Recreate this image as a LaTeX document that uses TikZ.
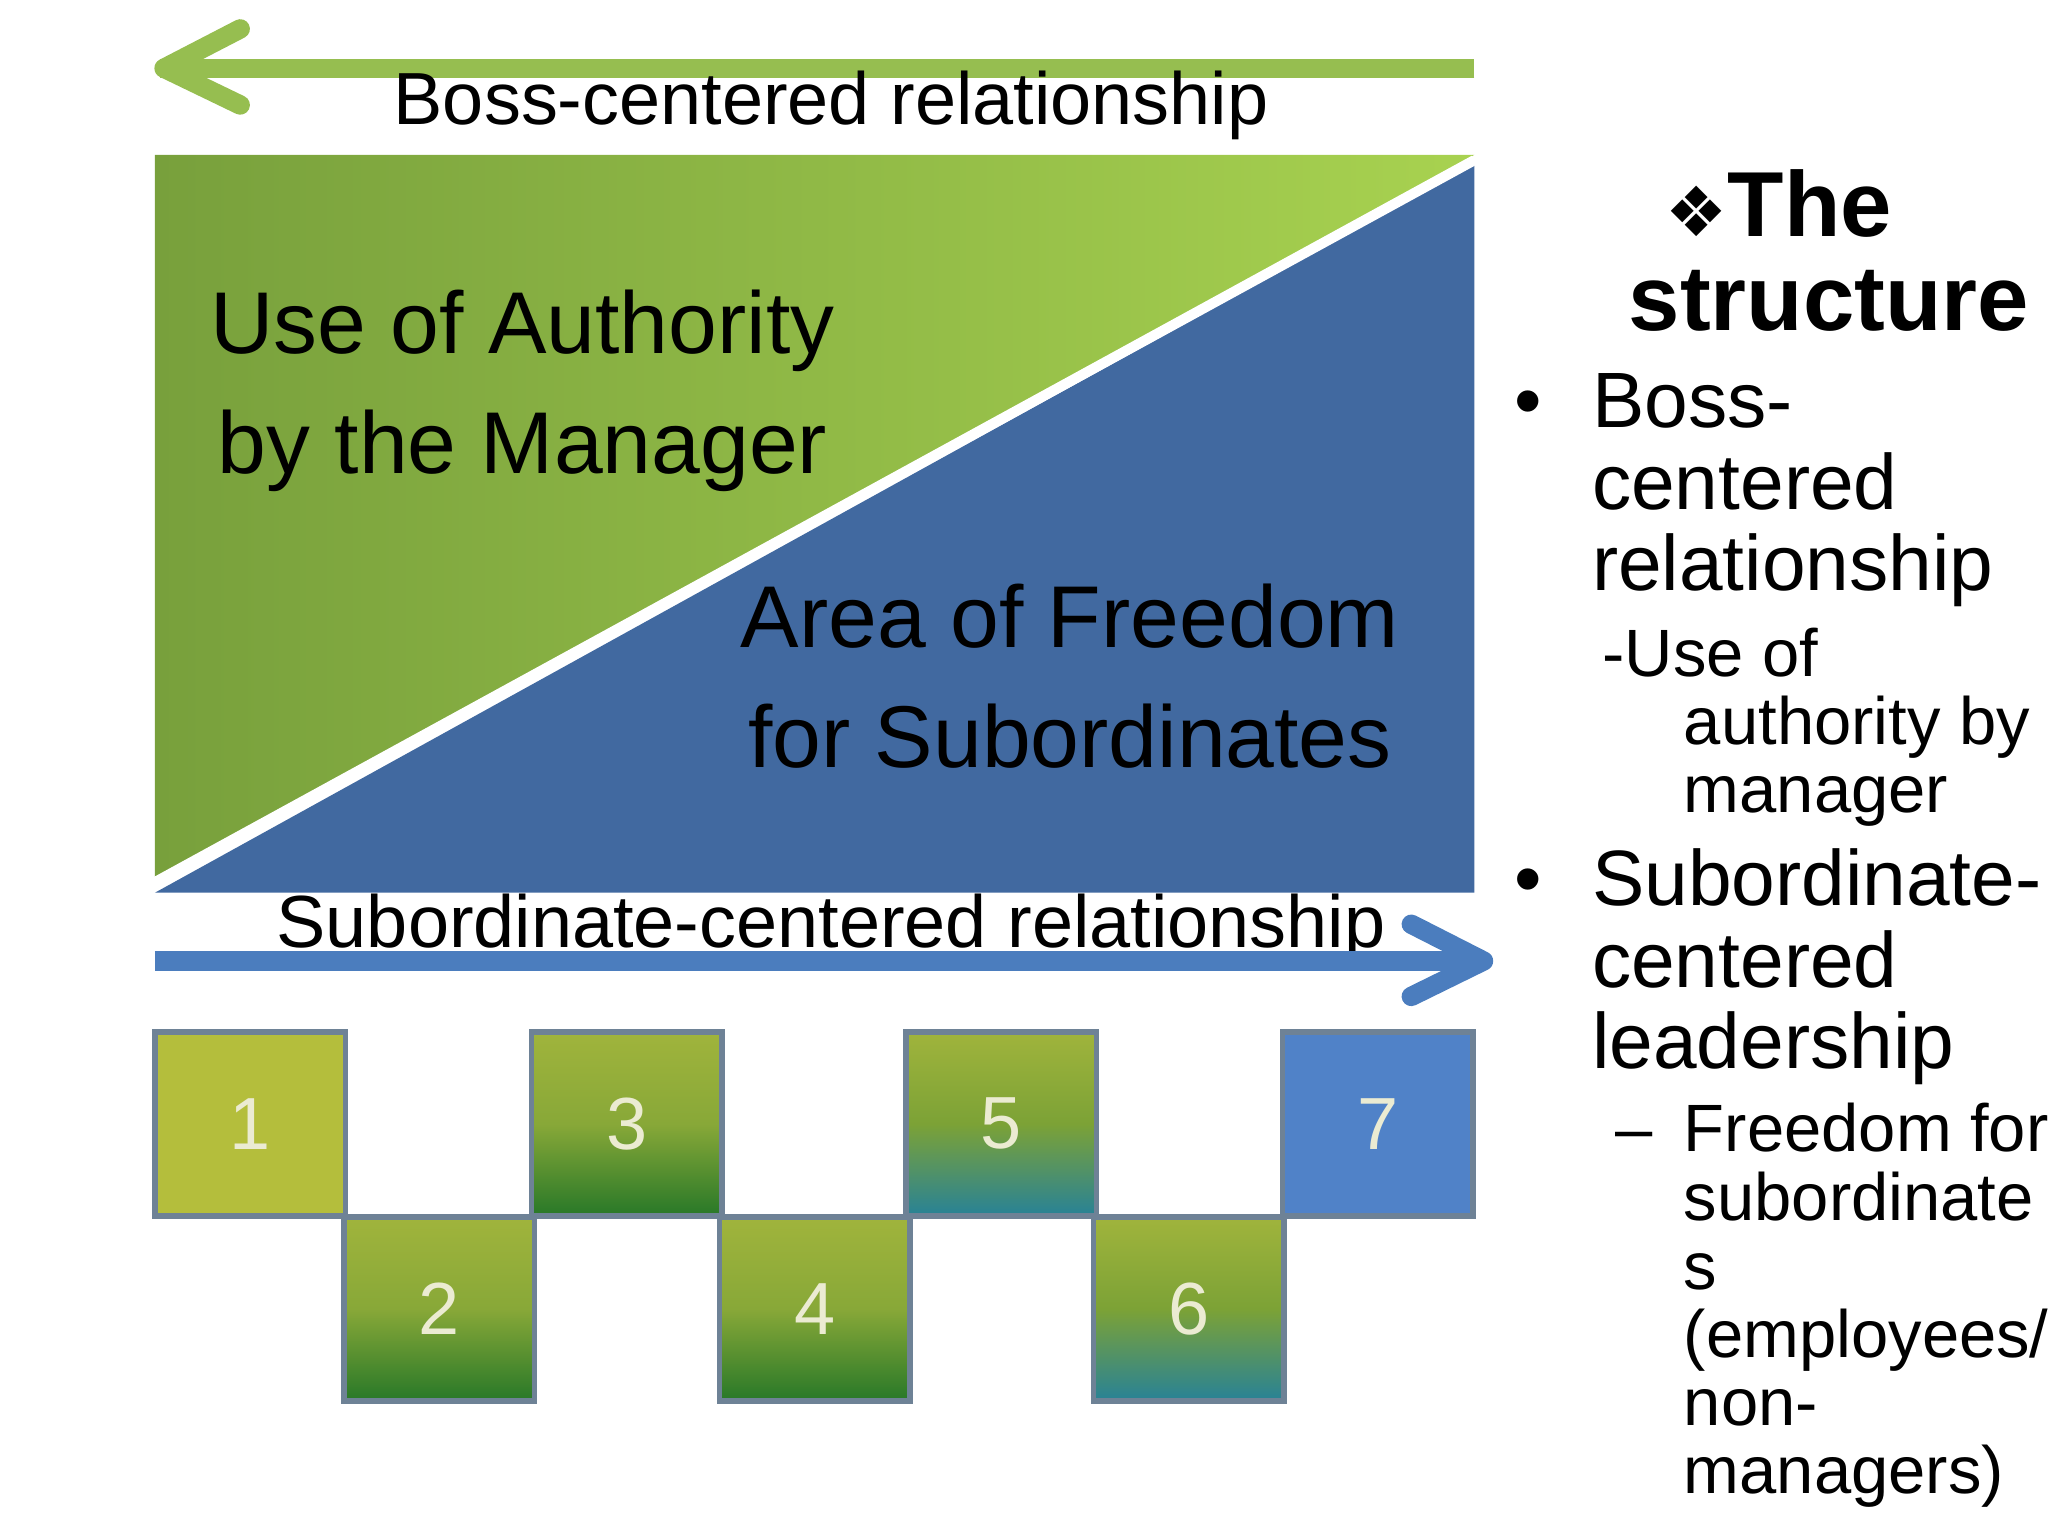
\documentclass[tikz,border=0pt]{standalone}
\usepackage{fontspec}
\setmainfont{Liberation Sans}
\newfontfamily\dejavu{DejaVu Sans}
\usetikzlibrary{calc}
\definecolor{agreen}{RGB}{150,190,80}
\definecolor{ablue}{RGB}{75,125,190}
\definecolor{dgreen}{RGB}{120,160,60}
\definecolor{lgreen}{RGB}{168,210,80}
\definecolor{fblue}{RGB}{65,105,160}
\definecolor{sqedge}{RGB}{110,130,150}
\definecolor{olive}{RGB}{160,180,60}
\definecolor{dkg}{RGB}{40,120,40}
\definecolor{teal}{RGB}{40,130,150}
\definecolor{numc}{RGB}{235,235,210}
\tikzset{
 lbl/.style={font=\fontsize{16}{19}\selectfont, inner sep=0},
 big/.style={font=\fontsize{19}{26}\selectfont, align=center, inner sep=0},
 rt/.style={anchor=base west, font=\fontsize{17}{20}\selectfont, inner sep=0},
 rs/.style={anchor=base west, font=\fontsize{14.5}{17}\selectfont, inner sep=0},
 sq/.style={draw=sqedge, line width=1.2pt, minimum width=1.45cm, minimum height=1.40cm, inner sep=0, font=\fontsize{16}{18}\selectfont, text=numc},
}
\begin{document}
\begin{tikzpicture}[x=0.01cm,y=-0.01cm]
\useasboundingbox (0,0) rectangle (1560,1170);
% green arrow
\coordinate (gA) at (1123,52); \coordinate (gB) at (122,52);
\draw[agreen, line width=4.2pt] (gA) -- (gB);
\draw[agreen, line width=4.2pt, line cap=round, line join=round] (183,22) -- (125,52) -- (183,80);
\node[lbl] (boss) at (633,80) {Boss-centered relationship};
% rectangle
\coordinate (r1) at (118,118); \coordinate (r2) at (1123,118);
\coordinate (r3) at (1123,680); \coordinate (r4) at (118,680);
\shade[left color=dgreen, right color=lgreen] (118,670) -- (118,118) -- (1123,118) -- cycle;
\fill[fblue] (118,680) -- (1123,125) -- (1123,680) -- cycle;
\draw[white, line width=2.2pt] (118,672) -- (1123,122);
\node[big] (auth) at (398,298) {Use of Authority\\by the Manager};
\node[big] (free) at (815,515) {Area of Freedom\\for Subordinates};
\node[lbl] (sub) at (633,707) {Subordinate-centered relationship};
% blue arrow
\draw[ablue, line width=4.2pt] (118,732) -- (1128,732);
\draw[ablue, line width=4.2pt, line cap=round, line join=round] (1075,704) -- (1130,732) -- (1075,759);
% squares
\node[sq, fill={rgb,255:red,180;green,190;blue,60}] (s1) at (190.5,856) {1};
\node[sq, top color=olive, bottom color=dkg, middle color=olive!80!dkg] (s2) at (334.5,997) {2};
\node[sq, top color=olive, bottom color=dkg, middle color=olive!80!dkg] (s3) at (477.5,856) {3};
\node[sq, top color=olive, bottom color=dkg, middle color=olive!80!dkg] (s4) at (620.5,997) {4};
\node[sq, top color=olive, bottom color=teal, middle color=olive!70!dkg] (s5) at (762.5,856) {5};
\node[sq, top color=olive, bottom color=teal, middle color=olive!70!dkg] (s6) at (905.5,997) {6};
\node[sq, fill={rgb,255:red,80;green,130;blue,200}] (s7) at (1049.5,856) {7};
% right text
\node[anchor=base west, inner sep=0, font=\fontsize{20}{22}\selectfont\bfseries] (t1) at (1268,180) {{\dejavu\fontsize{15}{15}\selectfont ❖}The};
\node[anchor=base west, inner sep=0, font=\fontsize{20}{22}\selectfont\bfseries] (t2) at (1240,252) {structure};
\node[rt] (b1) at (1153,326) {•};
\node[rt] (l1) at (1212,326) {Boss-};
\node[rt] (l2) at (1212,388) {centered};
\node[rt] (l3) at (1212,450) {relationship};
\node[rs] (m1) at (1220,515) {-Use of};
\node[rs] (m2) at (1282,567) {authority by};
\node[rs] (m3) at (1282,619) {manager};
\node[rt] (b2) at (1153,690) {•};
\node[rt] (k1) at (1212,690) {Subordinate-};
\node[rt] (k2) at (1212,752) {centered};
\node[rt] (k3) at (1212,814) {leadership};
\node[rs] (d0) at (1230,877) {–};
\node[rs] (n1) at (1282,877) {Freedom for};
\node[rs] (n2) at (1282,930) {subordinate};
\node[rs] (n3) at (1282,982) {s};
\node[rs] (n4) at (1282,1034) {(employees/};
\node[rs] (n5) at (1282,1086) {non-};
\node[rs] (n6) at (1282,1138) {managers)};
\end{tikzpicture}
\end{document}
